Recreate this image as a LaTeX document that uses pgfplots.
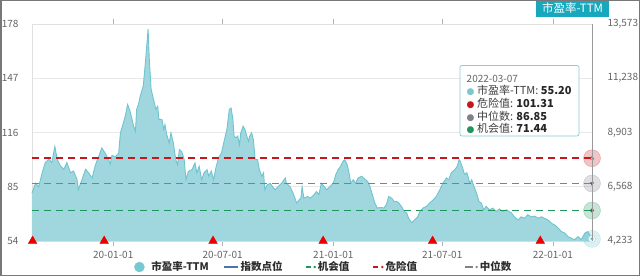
\documentclass[border=0pt]{standalone}
\usepackage{pgfplots}
\usepackage{pgfplotstable}
\pgfplotsset{compat=1.18}
\usepackage{fontspec}
\setmainfont{Noto Sans CJK SC}
\newfontfamily\symfont{DejaVu Sans}
\definecolor{ttmfill}{RGB}{160,215,222}
\definecolor{ttmline}{RGB}{112,196,207}
\definecolor{ttmdot}{RGB}{120,200,210}
\definecolor{dangerred}{RGB}{200,22,29}
\definecolor{midgrey}{RGB}{128,128,136}
\definecolor{oppgreen}{RGB}{32,150,90}
\definecolor{titleteal}{RGB}{23,168,189}
\definecolor{idxblue}{RGB}{76,114,176}
\definecolor{tickgrey}{RGB}{100,100,100}
\definecolor{legtext}{RGB}{45,45,45}
\definecolor{tipborder}{RGB}{140,205,212}
\definecolor{framegrey}{RGB}{120,120,120}
\definecolor{trired}{RGB}{235,0,0}

\pgfplotstableread{
d v
-135 81.4
-129 87
-124 85
-118 93
-113 98.8
-107 100.7
-102 98.8
-97 108
-93 100.7
-88 97
-82 95
-77 98.8
-71 93
-66 94
-60 89
-58 83.3
-52 89
-46 95
-41 93
-35 90
-30 97
-24 102.4
-19 107.2
-13 104
-8 100.7
-5 98
-2 103
3 102
9 104
12 115.8
17 121.6
20 125.4
24 132
28 128.2
34 119.6
37 116.7
39 129.2
42 132
45 136.9
50 142.6
54 157.9
58 175.1
60 157.9
63 140.7
67 135
71 129.2
74 131
76 123.5
81 123.5
84 117.7
86 120.5
89 114.9
93 110
96 115.8
100 110
104 100.5
107 97.6
110 106.3
114 105
118 100.5
121 89
125 93.8
131 94.8
136 98.6
139 93
143 96.7
147 89
151 93
156 94.8
159 91
163 94
167 89
170 94.8
175 101.5
180 104.3
185 112
189 117.7
193 129.2
196 130
199 123.5
201 113.9
204 113
207 114
210 109
212 115.8
216 119.6
219 117.7
222 114
225 111
227 114
230 115.8
233 112
236 100.5
240 100.5
243 94.8
247 91
250 93
252 83.3
256 86
261 87
265 85
269 83.3
274 85
280 87
286 90
288 87
294 85
299 81.4
305 75.7
309 77.5
312 78.5
314 85
317 78.5
323 79.4
328 78.5
334 80.5
338 82.3
342 80.5
346 87
351 85
355 83.3
360 85
366 87
370 91.9
374 94.8
378 96.7
382 99.5
385 100.5
389 97.6
392 93
395 87
399 89
403 87
407 90
413 91
418 89.5
423 88
427 85
430 81.4
435 75.7
439 72.8
445 73.2
450 72.8
454 74.7
458 79.4
463 78.5
467 76.6
471 76.6
475 75.7
479 73.8
484 70.9
488 70
491 67
496 64.5
501 66
506 67.8
510 70.9
515 72.8
521 73.8
526 75.7
532 77.5
537 79.4
543 83.3
548 87
554 90
558 89
562 93
568 94.8
572 96.7
575 100.5
577 99.5
581 95.7
584 92
588 93
593 87
596 89
600 85
604 81.4
608 76.6
612 75.7
616 71.8
620 73.8
626 71.8
631 72.8
637 70.9
642 72.3
648 70.9
654 71.8
662 70
667 67.8
673 66
678 67.8
684 67
689 69
695 67.8
701 68.2
706 67
712 67.8
717 67
723 66
729 64
734 63.2
740 61.3
745 59.4
751 58.5
756 56.5
762 55.6
767 54.7
773 56.5
778 54.7
784 58.5
789 59.4
794 56.5
796 55.2
}\ttmdata

\begin{document}
\begin{tikzpicture}
\path[use as bounding box] (0pt,0pt) rectangle (640pt,276pt);
\begin{axis}[
  at={(32pt,35pt)}, anchor=south west,
  scale only axis, width=560pt, height=217pt,
  xmin=-135, xmax=796, ymin=54, ymax=178,
  ytick={54,85,116,147,178},
  xtick={0,182,366,547,731},
  xticklabels={20-01-01,20-07-01,21-01-01,21-07-01,22-01-01},
  ymajorgrids, grid style={draw=black!9, line width=0.8pt},
  axis line style={draw=black!12, line width=0.8pt},
  tick align=outside, major tick length=5pt,
  xtick style={draw=black!30, line width=0.6pt},
  ytick style={draw=none},
  ticklabel style={font=\fontsize{10}{12}\selectfont, text=tickgrey},
  yticklabel style={xshift=-5pt},
  xticklabel style={yshift=-1.5pt},
  /pgf/number format/assume math mode=true,
  clip=false,
  legend columns=5,
  legend style={at={(0.521,-0.12)}, anchor=center, draw=none, fill=none,
    font=\fontsize{10.5}{12}\selectfont\bfseries, text=legtext,
    /tikz/every even column/.append style={column sep=0pt}},
]
\addlegendimage{legend image code/.code={\path[draw=none, fill=none] (0pt,-3pt) rectangle (15pt,3pt); \fill[ttmdot] (5pt,0pt) circle (5pt);}}
\addlegendentry{市盈率-TTM}
\addlegendimage{legend image code/.code={\path[draw=none, fill=none] (-13pt,0pt) -- (0pt,0pt); \draw[idxblue, line width=1.6pt] (0pt,0pt) -- (14pt,0pt);}}
\addlegendentry{指数点位}
\addlegendimage{legend image code/.code={\path[draw=none, fill=none] (-21pt,0pt) -- (0pt,0pt); \draw[oppgreen, line width=1.5pt] (0pt,0pt) -- (5pt,0pt); \fill[oppgreen] (9pt,0pt) circle (1pt);}}
\addlegendentry{机会值}
\addlegendimage{legend image code/.code={\path[draw=none, fill=none] (-22pt,0pt) -- (0pt,0pt); \draw[dangerred, line width=1.5pt] (0pt,0pt) -- (5pt,0pt); \fill[dangerred] (9pt,0pt) circle (1pt);}}
\addlegendentry{危险值}
\addlegendimage{legend image code/.code={\path[draw=none, fill=none] (-46pt,0pt) -- (0pt,0pt); \draw[midgrey, line width=1.5pt] (0pt,0pt) -- (8pt,0pt); \fill[midgrey] (11.5pt,0pt) circle (1pt);}}
\addlegendentry{中位数}

\addplot[fill=ttmfill, draw=none, forget plot] table[x=d,y=v]{\ttmdata} \closedcycle;
\addplot[draw=ttmline, line width=0.9pt, forget plot] table[x=d,y=v]{\ttmdata};

\addplot[dangerred, line width=1.5pt, dash pattern=on 7pt off 5pt, forget plot] coordinates {(-135,101.31) (796,101.31)};
\addplot[midgrey, line width=1.5pt, dash pattern=on 7pt off 5pt, forget plot] coordinates {(-135,86.85) (796,86.85)};
\addplot[oppgreen, line width=1.5pt, dash pattern=on 7pt off 5pt, forget plot] coordinates {(-135,71.44) (796,71.44)};

\addplot[only marks, mark=triangle*, mark size=5pt, color=trired, forget plot] coordinates {(-134,54) (-15,54) (166,54) (349,54) (531,54) (710,54)};

\addplot[only marks, mark=*, mark size=8.5pt, color=dangerred, mark options={fill opacity=0.25, draw opacity=0.3, line width=0.5pt}, forget plot] coordinates {(796,101.31)};
\addplot[only marks, mark=triangle*, mark size=2pt, color=dangerred, mark options={fill=white, line width=0.5pt}, forget plot] coordinates {(796,101.31)};
\addplot[only marks, mark=*, mark size=8.5pt, color=midgrey, mark options={fill opacity=0.25, draw opacity=0.3, line width=0.5pt}, forget plot] coordinates {(796,86.85)};
\addplot[only marks, mark=triangle*, mark size=1.8pt, color=midgrey!70!black, mark options={rotate=180}, forget plot] coordinates {(796,86.85)};
\addplot[only marks, mark=*, mark size=8.5pt, color=oppgreen, mark options={fill opacity=0.25, draw opacity=0.3, line width=0.5pt}, forget plot] coordinates {(796,71.44)};
\addplot[only marks, mark=*, mark size=1.8pt, color=oppgreen!80!black, forget plot] coordinates {(796,71.44)};
\addplot[only marks, mark=*, mark size=8.5pt, color=ttmline, mark options={fill opacity=0.25, draw opacity=0.3, line width=0.5pt}, forget plot] coordinates {(796,55.2)};
\addplot[only marks, mark=*, mark size=3.5pt, color=ttmline!60, mark options={fill=white, line width=0.5pt}, forget plot] coordinates {(796,55.2)};
\addplot[only marks, mark=*, mark size=1.5pt, color=ttmline, forget plot] coordinates {(796,55.2)};
\end{axis}

\begin{axis}[
  at={(32pt,35pt)}, anchor=south west,
  scale only axis, width=560pt, height=217pt,
  xmin=-135, xmax=796, ymin=4233, ymax=13573,
  ytick={4233,6568,8903,11238,13573},
  scaled y ticks=false,
  axis y line*=right, axis x line=none,
  axis line style={draw=black!40, line width=0.8pt, -},
  tick align=outside, major tick length=5pt,
  ytick style={draw=none},
  yticklabel style={font=\fontsize{10}{12}\selectfont, text=tickgrey, xshift=7pt},
  /pgf/number format/1000 sep={,},
  /pgf/number format/assume math mode=true,
]
\addplot[draw=none] coordinates {(0,5000)};
\end{axis}

% tooltip
\draw[tipborder, fill=white, rounded corners=2pt, line width=0.8pt] (460pt,140pt) rectangle (579pt,210.5pt);
\node[anchor=base west, inner sep=0pt, font=\fontsize{10}{12}\selectfont, text=tickgrey] at (466.5pt,193pt) {2022-03-07};
\node[anchor=base west, inner sep=0pt, font=\fontsize{11}{12}\selectfont, text=black!75] at (466.5pt,181pt) {{\symfont\fontsize{9}{9}\selectfont\textcolor{ttmdot}{●}}\hspace{2.5pt}市盈率-TTM: \textbf{\textcolor{black!85}{55.20}}};
\node[anchor=base west, inner sep=0pt, font=\fontsize{11}{12}\selectfont, text=black!75] at (466.5pt,168.3pt) {{\symfont\fontsize{9}{9}\selectfont\textcolor{dangerred}{●}}\hspace{2.5pt}危险值: \textbf{\textcolor{black!85}{101.31}}};
\node[anchor=base west, inner sep=0pt, font=\fontsize{11}{12}\selectfont, text=black!75] at (466.5pt,155.6pt) {{\symfont\fontsize{9}{9}\selectfont\textcolor{midgrey}{●}}\hspace{2.5pt}中位数: \textbf{\textcolor{black!85}{86.85}}};
\node[anchor=base west, inner sep=0pt, font=\fontsize{11}{12}\selectfont, text=black!75] at (466.5pt,143.3pt) {{\symfont\fontsize{9}{9}\selectfont\textcolor{oppgreen}{●}}\hspace{2.5pt}机会值: \textbf{\textcolor{black!85}{71.44}}};

% title tag
\fill[titleteal] (536pt,259pt) rectangle (609pt,276pt);
\node[text=white, font=\fontsize{11.5}{12}\selectfont, inner sep=0pt] at (572.5pt,267.5pt) {市盈率-TTM};

% frame
\draw[framegrey, line width=1.5pt] (0.75pt,0.75pt) rectangle (639.25pt,275.25pt);
\end{tikzpicture}
\end{document}
